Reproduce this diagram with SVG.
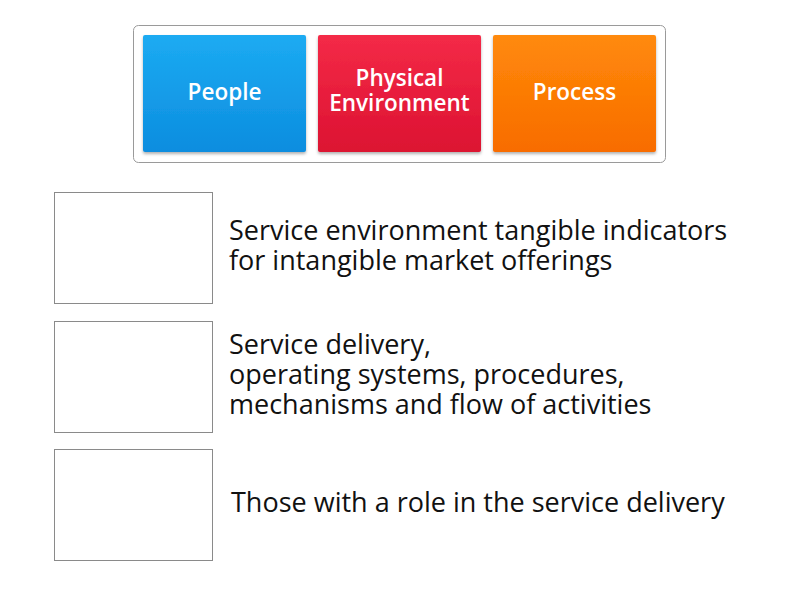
<svg xmlns="http://www.w3.org/2000/svg" width="800" height="600" viewBox="0 0 800 600">
<defs>
<linearGradient id="gBlue" x1="0" y1="0" x2="0" y2="1"><stop offset="0" stop-color="#1cabf2"/><stop offset="1" stop-color="#0c8ddf"/></linearGradient>
<linearGradient id="gRed" x1="0" y1="0" x2="0" y2="1"><stop offset="0" stop-color="#f42a47"/><stop offset="1" stop-color="#dc1232"/></linearGradient>
<linearGradient id="gOrange" x1="0" y1="0" x2="0" y2="1"><stop offset="0" stop-color="#ff8a0a"/><stop offset="1" stop-color="#f86c00"/></linearGradient>
<filter id="sh" x="-10%" y="-10%" width="120%" height="130%"><feDropShadow dx="0" dy="2" stdDeviation="1.5" flood-color="#000" flood-opacity="0.3"/></filter>
</defs>
<style>
.tile text{font-family:"Open Sans","Noto Sans",sans-serif;font-weight:600;font-size:22.5px;fill:#fff;text-anchor:middle}
.slot{fill:#fff;stroke:#8a8a8a;stroke-width:1}
.desc{font-family:"Open Sans","Noto Sans",sans-serif;font-size:27px;fill:#111}
</style>
<rect width="800" height="600" fill="#fff"/>
<rect x="133.5" y="25.5" width="532" height="137" rx="5" fill="#fff" stroke="#9a9a9a" stroke-width="1"/>
<g id="people" class="tile"><rect x="143" y="35" width="163" height="117" rx="2" fill="url(#gBlue)" filter="url(#sh)"/><text x="224.5" y="100">People</text></g>
<g id="physical" class="tile"><rect x="318" y="35" width="163" height="117" rx="2" fill="url(#gRed)" filter="url(#sh)"/><text x="399.5" y="86">Physical</text><text x="399.5" y="111">Environment</text></g>
<g id="process" class="tile"><rect x="493" y="35" width="163" height="117" rx="2" fill="url(#gOrange)" filter="url(#sh)"/><text x="574.5" y="100">Process</text></g>
<g id="row1"><rect class="slot" x="54.5" y="192.5" width="158" height="111"/><text class="desc" x="229" y="240">Service environment tangible indicators</text><text class="desc" x="229" y="270">for intangible market offerings</text></g>
<g id="row2"><rect class="slot" x="54.5" y="321.5" width="158" height="111"/><text class="desc" x="229" y="354">Service delivery,</text><text class="desc" x="229" y="384">operating systems, procedures,</text><text class="desc" x="229" y="414">mechanisms and flow of activities</text></g>
<g id="row3"><rect class="slot" x="54.5" y="449.5" width="158" height="111"/><text class="desc" x="231" y="512">Those with a role in the service delivery</text></g>
<g id="connectors"/>
</svg>
